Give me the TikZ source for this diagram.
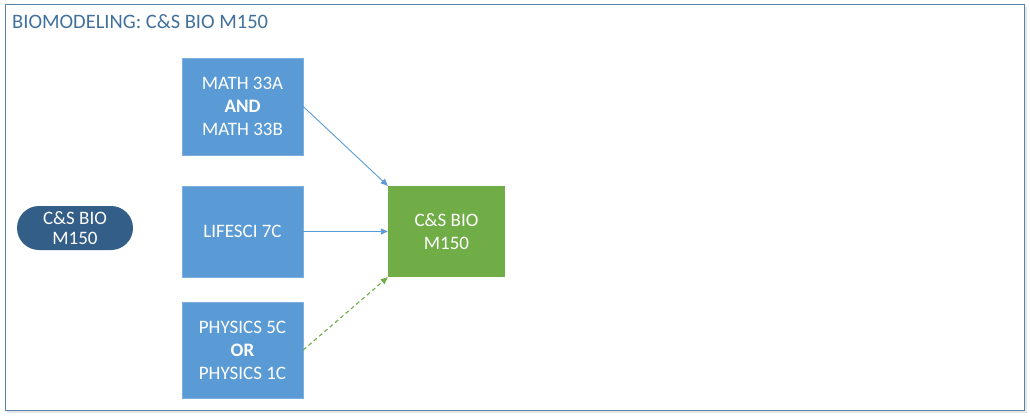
\documentclass[tikz,border=0pt]{standalone}
\usepackage{fontspec}
\setmainfont{Carlito}
\usetikzlibrary{arrows.meta}
\definecolor{boxblue}{HTML}{5B9BD5}
\definecolor{boxgreen}{HTML}{70AD47}
\definecolor{pilldark}{HTML}{335E88}
\definecolor{framecol}{HTML}{5A82A8}
\definecolor{titlecol}{HTML}{41719C}
\begin{document}
\begin{tikzpicture}[x=1pt,y=-1pt,
  course/.style={draw=boxblue!80!white, fill=boxblue, text=white, minimum width=121pt, align=center, font=\fontsize{19}{23}\selectfont, inner sep=0pt},
  target/.style={fill=boxgreen, text=white, minimum width=117pt, minimum height=91pt, align=center, font=\fontsize{19}{23}\selectfont, inner sep=0pt},
  pill/.style={fill=pilldark, text=white, rounded corners=22pt, minimum width=116pt, minimum height=44pt, align=center, font=\fontsize{19}{20}\selectfont, inner sep=0pt},
  req/.style={draw=boxblue, line width=0.9pt, -{Triangle[length=7pt,width=6pt]}},
  opt/.style={draw=boxgreen, line width=1.1pt, dashed, dash pattern=on 4pt off 3pt, -{Triangle[length=7pt,width=6pt]}}
]
\useasboundingbox (0,0) rectangle (1030,418);
\fill[black!10] (7,7) rectangle (1027,413);
\draw[framecol, line width=1pt, fill=white] (5,4) rectangle (1024,410);
\node[anchor=west, text=titlecol, font=\fontsize{20.5}{24}\selectfont, inner sep=0pt] (title) at (12,22) {BIOMODELING: C\&S BIO M150};
\node[pill] (pill) at (75,228) {C\&S BIO\\M150};
\node[course, minimum height=97pt] (math) at (242.5,106.5) {MATH 33A\\\textbf{AND}\\MATH 33B};
\node[course, minimum height=91pt] (life) at (242.5,231.5) {LIFESCI 7C};
\node[course, minimum height=96pt] (phys) at (242.5,350) {PHYSICS 5C\\\textbf{OR}\\PHYSICS 1C};
\node[target] (bio) at (446.5,231.5) {C\&S BIO\\M150};
\draw[req] (math.east) -- (bio.north west);
\draw[req] (life.east) -- (bio.west);
\draw[opt] (phys.east) -- (bio.south west);
\end{tikzpicture}
\end{document}
